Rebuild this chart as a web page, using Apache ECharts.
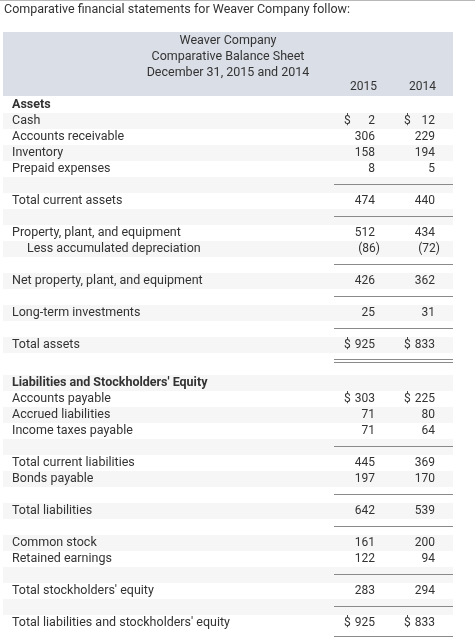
<!DOCTYPE html>
<html><head><meta charset="utf-8">
<script src="https://cdn.jsdelivr.net/npm/echarts@6/dist/echarts.min.js"></script>
<style>html,body{margin:0;padding:0;background:#fff}#c{width:475px;height:639px}</style>
</head><body><div id="c"></div>
<script>
const intro = "Comparative financial statements for Weaver Company follow:";
const titleLines = ["Weaver Company", "Comparative Balance Sheet", "December 31, 2015 and 2014"];
const years = ["2015", "2014"];
const labels = ["Assets","Cash","Accounts receivable","Inventory","Prepaid expenses","Total current assets",
 "Property, plant, and equipment","Less accumulated depreciation","Net property, plant, and equipment",
 "Long-term investments","Total assets","Liabilities and Stockholders' Equity","Accounts payable",
 "Accrued liabilities","Income taxes payable","Total current liabilities","Bonds payable","Total liabilities",
 "Common stock","Retained earnings","Total stockholders' equity","Total liabilities and stockholders' equity"];
const v2015 = [null,2,306,158,8,474,512,-86,426,25,925,null,303,71,71,445,197,642,161,122,283,925];
const v2014 = [null,12,229,194,5,440,434,-72,362,31,833,null,225,80,64,369,170,539,200,94,294,833];
const dollar = [0,1,0,0,0,0,0,0,0,0,1,0,1,0,0,0,0,0,0,0,0,1];
const bold = [1,0,0,0,0,0,0,0,0,0,0,1,0,0,0,0,0,0,0,0,0,0];
const indent = [0,0,0,0,0,0,0,1,0,0,0,0,0,0,0,0,0,0,0,0,0,0];
const rowPos = [0,1,2,3,4,6,8,9,11,13,15,17.375,18.375,19.375,20.375,22.375,23.375,25.375,27.375,28.375,30.375,32.375];
const stripePos = [1,3,5,7,9,11,13,15,17.375,19.375,21.375,23.375,25.375,27.375,29.375,31.375];
const rulePos = [4.97,6.97,9.97,11.97,13.97,15.9,16.1,21.35,24.35,26.35,29.35,31.35,33.2];

const chart = echarts.init(document.getElementById('c'));
const FONT = 'Roboto';
const data = labels.map((l,i)=>[rowPos[i], i]);
function fmt(v){ return v==null?'':(v<0?'('+(-v)+')':String(v)); }
chart.setOption({
  animation:false,
  grid:{left:0,right:0,top:0,bottom:0},
  xAxis:{type:'value',min:0,max:475,show:false},
  yAxis:{type:'value',min:-104.5/16,max:(639-104.5)/16,inverse:true,show:false},
  graphic:[
    {type:'rect',shape:{x:0,y:0,width:475,height:1},style:{fill:'#b8b8b8'}},
    {type:'text',left:4,top:3,style:{text:intro,font:'12.5px '+FONT,fill:'#333'}},
    {type:'rect',shape:{x:3,y:32,width:450,height:64},style:{fill:'#dadee6'},z:-1},
    {type:'text',x:228,y:33,style:{text:titleLines.join('\n'),font:'12.5px '+FONT,fill:'#333',align:'center',lineHeight:16}},
    {type:'text',x:377,y:81,style:{text:years[0],font:'12px '+FONT,fill:'#333',align:'right'}},
    {type:'text',x:436,y:81,style:{text:years[1],font:'12px '+FONT,fill:'#333',align:'right'}}
  ],
  series:[
    {type:'custom',data:stripePos.map(p=>[p]),z:0,silent:true,
     renderItem:(p,api)=>{const a=api.coord([3,api.value(0)-0.5]),b=api.coord([453,api.value(0)+0.5]);
       return {type:'rect',shape:{x:a[0],y:Math.round(a[1]),width:b[0]-a[0],height:16},style:{fill:'#f6f6f6'}};}},
    {type:'custom',data:rulePos.map(p=>[p]),z:2,silent:true,
     renderItem:(p,api)=>{const a=api.coord([334,api.value(0)]),b=api.coord([453,api.value(0)]);
       return {type:'rect',shape:{x:a[0],y:Math.round(a[1]),width:b[0]-a[0],height:1},style:{fill:'#8a8a8a'}};}},
    {type:'custom',data:data,z:3,silent:true,
     renderItem:(p,api)=>{
       const i=api.value(1), r=api.value(0);
       const y=api.coord([0,r])[1];
       const ch=[];
       const lx=api.coord([indent[i]?27:12,r])[0];
       ch.push({type:'text',style:{text:labels[i],x:lx,y:y,font:(bold[i]?'bold 12.5px ':'12.5px ')+FONT,fill:'#333',verticalAlign:'middle'}});
       [[v2015,344,375],[v2014,404,435]].forEach(([arr,dx,rx])=>{
         const v=arr[i]; if(v==null) return;
         const ex=v<0?5:0;
         ch.push({type:'text',style:{text:fmt(v),x:api.coord([rx+ex,r])[0],y:y,font:'12px '+FONT,fill:'#333',align:'right',verticalAlign:'middle'}});
         if(dollar[i]) ch.push({type:'text',style:{text:'$',x:api.coord([dx,r])[0],y:y,font:'12px '+FONT,fill:'#333',verticalAlign:'middle'}});
       });
       return {type:'group',children:ch};
     }}
  ]
});
</script></body></html>
